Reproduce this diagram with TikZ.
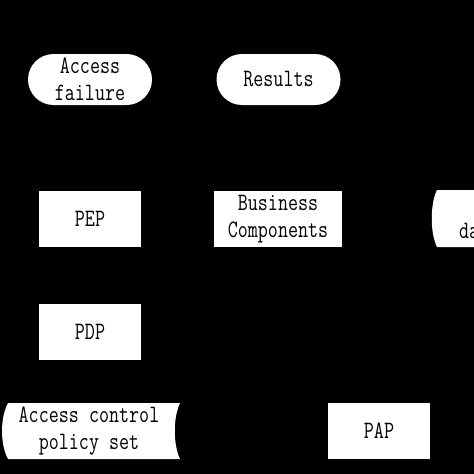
\documentclass[tikz,border=0pt]{standalone}
\usepackage{fontspec}
\newfontfamily\dfont[FakeStretch=0.78]{Latin Modern Mono}
\begin{document}
\begin{tikzpicture}[x=1pt,y=-1pt,
  lbl/.style={font=\dfont\fontsize{25}{27}\selectfont, align=center, text=black, inner sep=0pt},
  term/.style={lbl, fill=white, rounded corners=25.5pt, minimum width=124pt, minimum height=51pt},
  boxnode/.style={lbl, fill=white, minimum width=102pt, minimum height=56pt}]
\useasboundingbox (0,0) rectangle (474,474);
\clip (0,0) rectangle (474,474);
\fill[black] (0,0) rectangle (474,474);
% terminals
\node[term] (af) at (90,79.5) {Access\\failure};
\node[term] (res) at (278.5,79.5) {Results};
% boxes
\node[boxnode] (pep) at (90,219) {PEP};
\node[boxnode, minimum width=128pt] (bc) at (278,219) {Business\\Components};
\node[boxnode] (pdp) at (90,332) {PDP};
\node[boxnode] (pap) at (379,431) {PAP};
% stored data: access control policy set
\fill[white] (8,403) -- (180,403) .. controls (173,418) and (173,444) .. (180,459)
  -- (8,459) .. controls (0,444) and (0,418) .. (8,403) -- cycle;
\node[lbl] (acps) at (89,431) {Access control\\policy set};
% stored data at right edge (cut off)
\fill[white] (437,190) -- (500,190) -- (500,247) -- (437,247)
  .. controls (430,233) and (430,204) .. (437,190) -- cycle;
\node[lbl, anchor=base west] (db) at (459,238) {da};
\end{tikzpicture}
\end{document}
